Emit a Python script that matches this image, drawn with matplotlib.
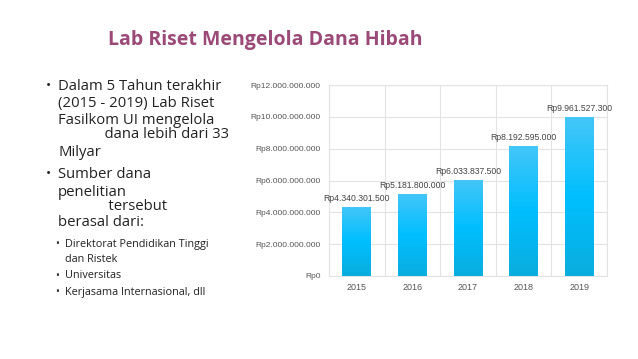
import matplotlib.pyplot as plt
import numpy as np
from matplotlib.colors import LinearSegmentedColormap
from matplotlib.ticker import FuncFormatter, MultipleLocator

years = ['2015', '2016', '2017', '2018', '2019']
dana = [4340301500, 5181800000, 6033837500, 8192595000, 9961527300]
label_dana = ['Rp4.340.301.500', 'Rp5.181.800.000', 'Rp6.033.837.500',
              'Rp8.192.595.000', 'Rp9.961.527.300']

judul = 'Lab Riset Mengelola Dana Hibah'
baris_utama = [
    ('•', 'Dalam 5 Tahun terakhir', 87),
    ('', '(2015 - 2019) Lab Riset', 103),
    ('', 'Fasilkom UI mengelola', 120),
    ('', '            dana lebih dari 33', 135),
    ('', 'Milyar', 152),
    ('•', 'Sumber dana', 175),
    ('', 'penelitian', 192),
    ('', '             tersebut', 207),
    ('', 'berasal dari:', 222),
]
baris_sub = [
    ('•', 'Direktorat Pendidikan Tinggi', 245),
    ('', 'dan Ristek', 259),
    ('•', 'Universitas', 276),
    ('•', 'Kerjasama Internasional, dll', 292),
]

W, H = 638, 359
fig = plt.figure(figsize=(W / 100, H / 100), dpi=100)
fig.patch.set_facecolor('white')

# judul
fig.text(265 / W, 1 - 40 / H, judul, ha='center', va='center',
         fontsize=14, fontweight='bold', color='#9B4A78', family='Open Sans')

# teks kiri
for b, t, y in baris_utama:
    if b:
        fig.text(46 / W, 1 - y / H, b, ha='left', va='center', fontsize=10,
                 color='#222222', family='Open Sans')
    fig.text(58 / W, 1 - y / H, t, ha='left', va='center', fontsize=10.7,
             color='#222222', family='Open Sans')
for b, t, y in baris_sub:
    if b:
        fig.text(55 / W, 1 - y / H, b, ha='left', va='center', fontsize=7.5,
                 color='#222222', family='Open Sans')
    fig.text(65 / W, 1 - y / H, t, ha='left', va='center', fontsize=7.8,
             color='#222222', family='Open Sans')

# grafik
ax = fig.add_axes([329 / W, 1 - 276 / H, (607 - 329) / W, (276 - 85) / H])
x = np.arange(len(years))
bars = ax.bar(x, dana, width=0.52, color='none', edgecolor='none', zorder=3)

cmap = LinearSegmentedColormap.from_list('grad', ['#0AADDE', '#00BFFF', '#45C6F8'])
grad = np.linspace(0, 1, 256).reshape(-1, 1)
for r in bars:
    x0, w, h = r.get_x(), r.get_width(), r.get_height()
    im = ax.imshow(grad, cmap=cmap, origin='lower', aspect='auto',
                   extent=[x0, x0 + w, 0, h], zorder=3)
    im.set_clip_path(r)

for xi, v, lab in zip(x, dana, label_dana):
    ax.text(xi, v + 250000000, lab, ha='center', va='bottom', fontsize=6.2,
            color='#444444', family='Liberation Sans', zorder=4)

ax.set_xlim(-0.5, len(years) - 0.5)
ax.set_ylim(0, 12000000000)
ax.yaxis.set_major_locator(MultipleLocator(2000000000))


def rupiah(v, pos):
    if v == 0:
        return 'Rp0'
    return 'Rp' + f'{int(v):,}'.replace(',', '.')


ax.yaxis.set_major_formatter(FuncFormatter(rupiah))
ax.set_xticks(x)
ax.set_xticklabels(years)
ax.set_xticks(np.arange(-0.5, len(years), 1), minor=True)
ax.grid(True, axis='y', which='major', color='#E3E3E3', linewidth=0.8, zorder=0)
ax.grid(True, axis='x', which='minor', color='#E3E3E3', linewidth=0.8, zorder=0)
ax.tick_params(which='both', length=0)
ax.tick_params(axis='y', labelsize=6.0, labelcolor='#555555', pad=6)
ax.tick_params(axis='x', labelsize=6.5, labelcolor='#555555', pad=5)
for lab in ax.get_xticklabels() + ax.get_yticklabels():
    lab.set_family('Liberation Sans')
for s in ax.spines.values():
    s.set_color('#E3E3E3')
    s.set_linewidth(0.8)

fig.savefig('out.png', dpi=100)
